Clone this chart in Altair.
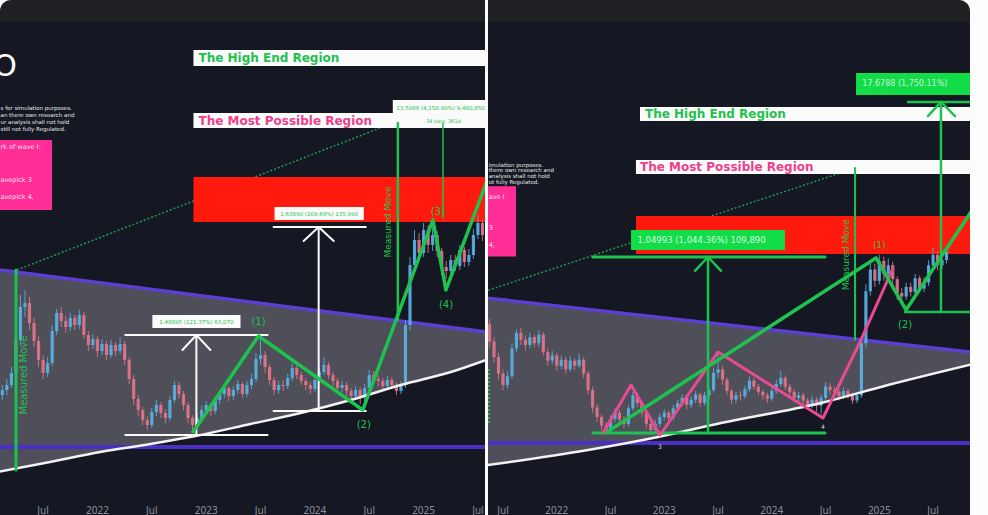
import altair as alt
import pandas as pd

# ---------------- price series (semi-monthly candles) ----------------
# t = months since Jan 2021, price in chart units
T_START = 1.5
T_STEP = 0.5
first_open = 1.20
closes = [1.25, 1.30, 1.42, 1.75, 2.08, 2.12, 1.92, 1.74, 1.55, 1.42,
          1.52, 1.84, 2.02, 1.94, 1.88, 1.97, 1.90, 2.00, 1.80, 1.70,
          1.76, 1.64, 1.71, 1.60, 1.70, 1.64, 1.71, 1.55, 1.36, 1.16,
          1.05, 0.95, 0.90, 1.03, 1.10, 1.02, 0.97, 1.15, 1.30, 1.21,
          1.10, 0.97, 0.90, 0.97, 1.05, 1.10, 1.04, 1.15, 1.21, 1.27,
          1.19, 1.25, 1.31, 1.21, 1.30, 1.36, 1.56, 1.60, 1.48, 1.35,
          1.25, 1.30, 1.29, 1.37, 1.47, 1.40, 1.34, 1.30, 1.26, 1.35,
          1.43, 1.50, 1.40, 1.34, 1.27, 1.30, 1.24, 1.19, 1.25, 1.18,
          1.27, 1.40, 1.36, 1.34, 1.29, 1.35, 1.30, 1.24, 1.30, 1.90,
          2.50, 2.75, 2.62, 2.85, 2.70, 2.80, 2.64, 2.48, 2.44, 2.55,
          2.49, 2.65, 2.53, 2.60, 2.80, 2.92, 2.80, 2.86, 2.96]
highs = [1.30, 1.36, 1.48, 1.80, 2.20, 2.25, 2.18, 1.97, 1.79, 1.60,
         1.58, 1.90, 2.06, 2.08, 1.99, 2.02, 2.00, 2.05, 2.03, 1.84,
         1.81, 1.79, 1.76, 1.74, 1.75, 1.73, 1.78, 1.74, 1.58, 1.40,
         1.20, 1.08, 0.99, 1.07, 1.15, 1.13, 1.06, 1.19, 1.34, 1.33,
         1.24, 1.13, 1.00, 1.02, 1.09, 1.14, 1.12, 1.19, 1.25, 1.31,
         1.29, 1.29, 1.35, 1.33, 1.34, 1.41, 1.62, 1.80, 1.64, 1.51,
         1.38, 1.34, 1.35, 1.41, 1.52, 1.50, 1.43, 1.37, 1.33, 1.39,
         1.48, 1.58, 1.53, 1.43, 1.37, 1.34, 1.33, 1.27, 1.29, 1.28,
         1.31, 1.45, 1.44, 1.40, 1.37, 1.39, 1.38, 1.33, 1.34, 1.95,
         2.58, 2.85, 2.82, 2.92, 2.90, 2.88, 2.84, 2.67, 2.54, 2.60,
         2.60, 2.70, 2.68, 2.66, 2.86, 3.00, 2.96, 2.93, 3.02]
lows = [1.15, 1.20, 1.27, 1.38, 1.70, 1.98, 1.85, 1.68, 1.48, 1.36,
        1.38, 1.49, 1.80, 1.88, 1.82, 1.84, 1.85, 1.86, 1.76, 1.64,
        1.66, 1.58, 1.60, 1.55, 1.57, 1.59, 1.61, 1.50, 1.31, 1.10,
        0.99, 0.90, 0.85, 0.87, 0.99, 0.97, 0.92, 0.94, 1.12, 1.16,
        1.05, 0.92, 0.84, 0.86, 0.93, 1.01, 0.99, 1.01, 1.11, 1.17,
        1.14, 1.15, 1.21, 1.17, 1.18, 1.26, 1.33, 1.50, 1.42, 1.30,
        1.20, 1.21, 1.24, 1.26, 1.34, 1.36, 1.30, 1.25, 1.21, 1.23,
        1.32, 1.40, 1.36, 1.29, 1.22, 1.23, 1.19, 1.14, 1.15, 1.11,
        1.08, 1.24, 1.31, 1.29, 1.24, 1.26, 1.26, 1.20, 1.21, 1.27,
        1.85, 2.45, 2.55, 2.58, 2.62, 2.64, 2.58, 2.40, 2.36, 2.40,
        2.44, 2.45, 2.48, 2.49, 2.56, 2.76, 2.74, 2.76, 2.82]

tick_months = [6, 12, 18, 24, 30, 36, 42, 48, 54]
tick_labels = ["Jul", "2022", "Jul", "2023", "Jul", "2024", "Jul", "2025", "Jul"]

# ---------------- palette ----------------
NAVY = "#151823"
HEADER = "#1f2023"
BAND = "#4e4f59"
PURPLE = "#5a3fd0"
PURPLE_H = "#4b2fc4"
GREEN = "#1ec24e"
GREEN_BOX = "#12dc48"
RED = "#ff1a0d"
WHITE = "#fbfbfb"
PINK_BOX = "#ff2e96"
PINK_TXT = "#ee3f8c"
PINK_LINE = "#ea4a92"
UP = "#5ab0e2"
DOWN = "#e27389"
TICK = "#8c8f99"

# ---------------- left panel annotations ----------------
LEFT = dict(
    width=485, corner="left",
    xdom=[1.243, 54.78], ydom=[0.0, 5.15],
    band_t=[1.243, 54.9], band_p=[2.45, 1.83],
    curve_t=[1.0, 6.77, 12.31, 17.84, 22.81, 28.9, 34.43, 39.96, 45.49, 51.02, 55.2],
    curve_p=[0.43, 0.53, 0.63, 0.71, 0.79, 0.91, 1.02, 1.15, 1.30, 1.43, 1.56],
    purple_h=0.68,
    diag=(3.12, 2.45, 44.6, 3.92),
    dashed=[],
    boxes=[(22.6, 56, 4.49, 4.65, WHITE), (22.6, 56, 3.87, 4.02, WHITE),
           (22.6, 56, 2.93, 3.38, RED), (44.6, 56, 3.87, 4.15, WHITE),
           (1.0, 6.99, 3.05, 3.75, PINK_BOX),
           (18.06, 27.79, 1.87, 2.00, WHITE), (31.55, 41.4, 2.95, 3.08, WHITE)],
    rules=[(15.07, 1.80, 30.78, 1.80, WHITE, 2), (15.07, 0.80, 30.78, 0.80, WHITE, 2),
           (22.92, 0.80, 22.92, 1.80, WHITE, 2), (21.38, 1.65, 22.92, 1.80, WHITE, 2),
           (22.92, 1.80, 24.47, 1.65, WHITE, 2),
           (31.44, 2.88, 41.62, 2.88, WHITE, 2), (31.44, 1.04, 41.62, 1.04, WHITE, 2),
           (36.42, 1.04, 36.42, 2.88, WHITE, 2), (34.76, 2.74, 36.42, 2.88, WHITE, 2),
           (36.42, 2.88, 38.08, 2.74, WHITE, 2),
           (3.01, 0.45, 3.01, 2.45, GREEN, 3), (45.16, 1.95, 45.16, 3.92, GREEN, 2.5),
           (50.14, 2.97, 50.14, 3.92, GREEN, 1.5)],
    polylines=[(GREEN, 3.5, [22.48, 29.78, 41.29, 49.03, 50.47, 55.45],
                [0.82, 1.79, 1.05, 2.95, 2.25, 3.45])],
    texts=[
        ("O", 1.80, 4.48, 30, WHITE, "normal", 0, "center"),
        ("s for simulation purposes.", 1.30, 4.07, 5.5, "#e6e6e6", "normal", 0, "left"),
        ("an there own research and", 1.30, 4.00, 5.5, "#e6e6e6", "normal", 0, "left"),
        ("ur analysis shall not hold", 1.30, 3.93, 5.5, "#e6e6e6", "normal", 0, "left"),
        ("still not fully Regulated.", 1.30, 3.86, 5.5, "#e6e6e6", "normal", 0, "left"),
        ("rk of wave I:", 1.30, 3.68, 6.5, "#ffe0f0", "normal", 0, "left"),
        ("avepick 3", 1.30, 3.35, 6.5, "#ffe0f0", "normal", 0, "left"),
        ("avepick 4,", 1.30, 3.18, 6.5, "#ffe0f0", "normal", 0, "left"),
        ("The High End Region", 23.15, 4.57, 12, GREEN, "bold", 0, "left"),
        ("The Most Possible Region", 23.15, 3.945, 12, PINK_TXT, "bold", 0, "left"),
        ("13.5066 (4,158.90%) 9,480,850", 45.0, 4.07, 5.5, GREEN, "normal", 0, "left"),
        ("34 bars, 361d", 50.2, 3.94, 5, GREEN, "normal", 0, "center"),
        ("1.48895 (121.37%) 63,070", 22.92, 1.935, 5.5, GREEN, "normal", 0, "center"),
        ("1.63890 (209.69%) 135,990", 36.48, 3.015, 5.5, GREEN, "normal", 0, "center"),
        ("Measured Move", 3.9, 1.40, 10, GREEN, "normal", 270, "center"),
        ("Measured Move", 44.05, 2.93, 9, GREEN, "normal", 270, "center"),
        ("(1)", 29.78, 1.93, 10, GREEN, "normal", 0, "center"),
        ("(2)", 41.4, 0.90, 10, GREEN, "normal", 0, "center"),
        ("(3)", 49.58, 3.03, 10, GREEN, "normal", 0, "center"),
        ("(4)", 50.47, 2.10, 10, GREEN, "normal", 0, "center"),
    ],
    tick_p=0.09,
)

# ---------------- right panel annotations ----------------
RIGHT = dict(
    width=482, corner="right",
    xdom=[4.326, 58.12], ydom=[-0.0807, 5.859],
    band_t=[4.326, 58.12], band_p=[2.42, 1.80],
    curve_t=[4.0, 15.49, 23.30, 30.33, 41.49, 48.97, 58.4],
    curve_p=[0.49, 0.669, 0.819, 0.980, 1.211, 1.419, 1.66],
    purple_h=0.75,
    diag=(4.33, 2.51, 45.29, 3.92),
    dashed=[(4.44, 0.98, 4.44, 1.626)],
    boxes=[(21.29, 59, 4.464, 4.625, WHITE), (20.84, 59, 3.852, 4.014, WHITE),
           (20.84, 59, 2.93, 3.368, RED), (45.40, 59, 4.763, 5.017, GREEN_BOX),
           (20.29, 37.47, 2.976, 3.206, GREEN_BOX), (4.0, 7.45, 2.90, 3.71, PINK_BOX)],
    rules=[(51.2, 4.683, 59, 4.683, GREEN, 2.5), (54.88, 2.261, 54.88, 4.683, GREEN, 2.5),
           (53.43, 4.52, 54.88, 4.683, GREEN, 2.5), (54.88, 4.683, 56.45, 4.52, GREEN, 2.5),
           (50.87, 2.261, 59, 2.261, GREEN, 2.5),
           (16.04, 2.895, 41.94, 2.895, GREEN, 3), (16.04, 0.865, 41.94, 0.865, GREEN, 3),
           (28.88, 0.865, 28.88, 2.895, GREEN, 2.5),
           (27.43, 2.734, 28.88, 2.895, GREEN, 2.5), (28.88, 2.895, 30.33, 2.734, GREEN, 2.5),
           (45.29, 1.94, 45.29, 3.92, GREEN, 2)],
    polylines=[(PINK_LINE, 3, [17.16, 20.29, 23.52, 29.99, 41.71, 45.96, 49.53],
                [0.865, 1.419, 0.842, 1.799, 1.038, 1.938, 2.768]),
               (GREEN, 3.5, [17.61, 47.63, 50.98, 54.88, 58.68],
                [0.877, 2.884, 2.284, 2.895, 3.483])],
    texts=[
        ("imulation purposes.", 4.40, 3.956, 5.5, "#e6e6e6", "normal", 0, "left"),
        ("there own research and", 4.40, 3.898, 5.5, "#e6e6e6", "normal", 0, "left"),
        ("analysis shall not hold", 4.40, 3.829, 5.5, "#e6e6e6", "normal", 0, "left"),
        ("ot fully Regulated.", 4.40, 3.760, 5.5, "#e6e6e6", "normal", 0, "left"),
        ("ave I", 4.40, 3.59, 6.5, "#ffe0f0", "normal", 0, "left"),
        ("3", 4.40, 3.23, 6.5, "#ffe0f0", "normal", 0, "left"),
        ("4,", 4.40, 3.03, 6.5, "#ffe0f0", "normal", 0, "left"),
        ("The High End Region", 21.85, 4.545, 12, GREEN, "bold", 0, "left"),
        ("The Most Possible Region", 21.29, 3.933, 12, PINK_TXT, "bold", 0, "left"),
        ("17.6788 (1,750.11%)", 46.1, 4.89, 8, "#c9f7d5", "normal", 0, "left"),
        ("1.04993 (1,044.36%) 109,890", 21.0, 3.09, 8.5, "#d0ffe0", "normal", 0, "left"),
        ("(2)", 50.87, 2.11, 10, GREEN, "normal", 0, "center"),
        ("(1)", 48.0, 3.03, 9, GREEN, "normal", 0, "center"),
        ("3", 23.52, 0.70, 6, "#dddddd", "normal", 0, "center"),
        ("4", 41.71, 0.93, 6, "#dddddd", "normal", 0, "center"),
        ("Measured Move", 44.28, 2.92, 9, GREEN, "normal", 270, "center"),
    ],
    tick_p=0.023,
)

opens = [first_open] + closes[:-1]
candles = pd.DataFrame({
    "t": [T_START + T_STEP * i for i in range(len(closes))],
    "open": opens, "close": closes, "high": highs, "low": lows,
})
candles["dir"] = ["up" if c >= o else "down" for o, c in zip(opens, closes)]


def build_panel(P):
    xs = alt.Scale(domain=P["xdom"], nice=False, zero=False, padding=0)
    ys = alt.Scale(domain=P["ydom"], nice=False, zero=False, padding=0)
    bottom = P["ydom"][0]

    def X(f="t"):
        return alt.X(f"{f}:Q", scale=xs, axis=None)

    def Y(f="p"):
        return alt.Y(f"{f}:Q", scale=ys, axis=None)

    one = pd.DataFrame({"k": [0]})
    rad = {"cornerRadiusTopLeft": 16} if P["corner"] == "left" else {"cornerRadiusTopRight": 16}
    layers = []

    # panel background and header strip
    layers.append(alt.Chart(one).mark_rect(color=NAVY, **rad).encode(
        x=alt.value(0), x2=alt.value("width"), y=alt.value(0), y2=alt.value("height")))
    layers.append(alt.Chart(one).mark_rect(color=HEADER, **rad).encode(
        x=alt.value(0), x2=alt.value("width"), y=alt.value(0), y2=alt.value(22)))

    # triangle band: shade under the descending trendline, then clear below the support curve
    band = pd.DataFrame({"t": P["band_t"], "p": P["band_p"], "p2": [bottom] * 2})
    layers.append(alt.Chart(band).mark_area(color=BAND, clip=True).encode(
        x=X(), y=Y(), y2=alt.Y2("p2:Q")))
    curve = pd.DataFrame({"t": P["curve_t"], "p": P["curve_p"], "p2": [bottom] * len(P["curve_t"])})
    layers.append(alt.Chart(curve).mark_area(color=NAVY, clip=True, interpolate="monotone").encode(
        x=X(), y=Y(), y2=alt.Y2("p2:Q")))

    # purple trendlines
    layers.append(alt.Chart(pd.DataFrame({"p": [P["purple_h"]]})).mark_rule(
        color=PURPLE_H, strokeWidth=4, clip=True).encode(y=Y()))
    layers.append(alt.Chart(band).mark_line(color=PURPLE, strokeWidth=3.5, clip=True).encode(
        x=X(), y=Y()))

    # dotted projection line
    d = P["diag"]
    diag = pd.DataFrame({"t": [d[0]], "p": [d[1]], "t2": [d[2]], "p2": [d[3]]})
    layers.append(alt.Chart(diag).mark_rule(color="#1f9a4e", strokeWidth=1.5, strokeDash=[2, 2],
                                            clip=True).encode(
        x=X(), y=Y(), x2=alt.X2("t2:Q"), y2=alt.Y2("p2:Q")))
    if P["dashed"]:
        dd = pd.DataFrame([dict(t=a, p=b, t2=c, p2=e) for a, b, c, e in P["dashed"]])
        layers.append(alt.Chart(dd).mark_rule(color=GREEN, strokeWidth=2, strokeDash=[2, 2],
                                              clip=True).encode(
            x=X(), y=Y(), x2=alt.X2("t2:Q"), y2=alt.Y2("p2:Q")))

    # region bars and label boxes
    boxes = pd.DataFrame([dict(t=a, t2=b, p=c, p2=e, c=col) for a, b, c, e, col in P["boxes"]])
    layers.append(alt.Chart(boxes).mark_rect(clip=True).encode(
        x=X(), x2=alt.X2("t2:Q"), y=Y(), y2=alt.Y2("p2:Q"), color=alt.Color("c:N", scale=None)))

    # candles
    cscale = alt.Scale(domain=["up", "down"], range=[UP, DOWN])
    layers.append(alt.Chart(candles).mark_rule(strokeWidth=1, opacity=0.85, clip=True).encode(
        x=X(), y=Y("low"), y2=alt.Y2("high"), color=alt.Color("dir:N", scale=cscale, legend=None)))
    layers.append(alt.Chart(candles).mark_bar(size=3.2, opacity=0.9, clip=True).encode(
        x=X(), y=Y("open"), y2=alt.Y2("close"), color=alt.Color("dir:N", scale=cscale, legend=None)))

    # support curve
    layers.append(alt.Chart(curve).mark_line(color="#f2f2f2", strokeWidth=2.5, clip=True,
                                             interpolate="monotone").encode(x=X(), y=Y()))

    # measurement rules
    rules = pd.DataFrame([dict(t=a, p=b, t2=c, p2=e, c=col, w=w) for a, b, c, e, col, w in P["rules"]])
    layers.append(alt.Chart(rules).mark_rule(clip=True, strokeCap="round").encode(
        x=X(), y=Y(), x2=alt.X2("t2:Q"), y2=alt.Y2("p2:Q"),
        color=alt.Color("c:N", scale=None), strokeWidth=alt.StrokeWidth("w:Q", scale=None)))

    # wave counts
    for col, w, ts, ps in P["polylines"]:
        df = pd.DataFrame({"t": ts, "p": ps, "i": list(range(len(ts)))})
        layers.append(alt.Chart(df).mark_line(color=col, strokeWidth=w, clip=True,
                                              strokeJoin="round").encode(
            x=X(), y=Y(), order="i:Q"))

    # labels
    for txt, t, p, size, col, weight, angle, align in P["texts"]:
        df = pd.DataFrame({"t": [t], "p": [p], "s": [txt]})
        layers.append(alt.Chart(df).mark_text(
            fontSize=size, color=col, fontWeight=weight, angle=angle, align=align,
            baseline="middle", font="DejaVu Sans", clip=True).encode(x=X(), y=Y(), text="s:N"))

    # time axis labels along the bottom edge
    ticks = pd.DataFrame({"t": tick_months, "p": [P["tick_p"]] * len(tick_months), "s": tick_labels})
    layers.append(alt.Chart(ticks).mark_text(fontSize=10, color=TICK, baseline="top",
                                             font="Noto Sans", clip=True).encode(
        x=X(), y=Y(), text="s:N"))

    return alt.layer(*layers).properties(width=P["width"], height=515)


chart = alt.hconcat(build_panel(LEFT), build_panel(RIGHT), spacing=3).properties(
    padding={"left": 0, "top": 0, "right": 18, "bottom": 0},
    background="#fdfdfb",
).configure_view(strokeWidth=0)

chart.save("out.html", embed_options={"renderer": "svg", "actions": False})
